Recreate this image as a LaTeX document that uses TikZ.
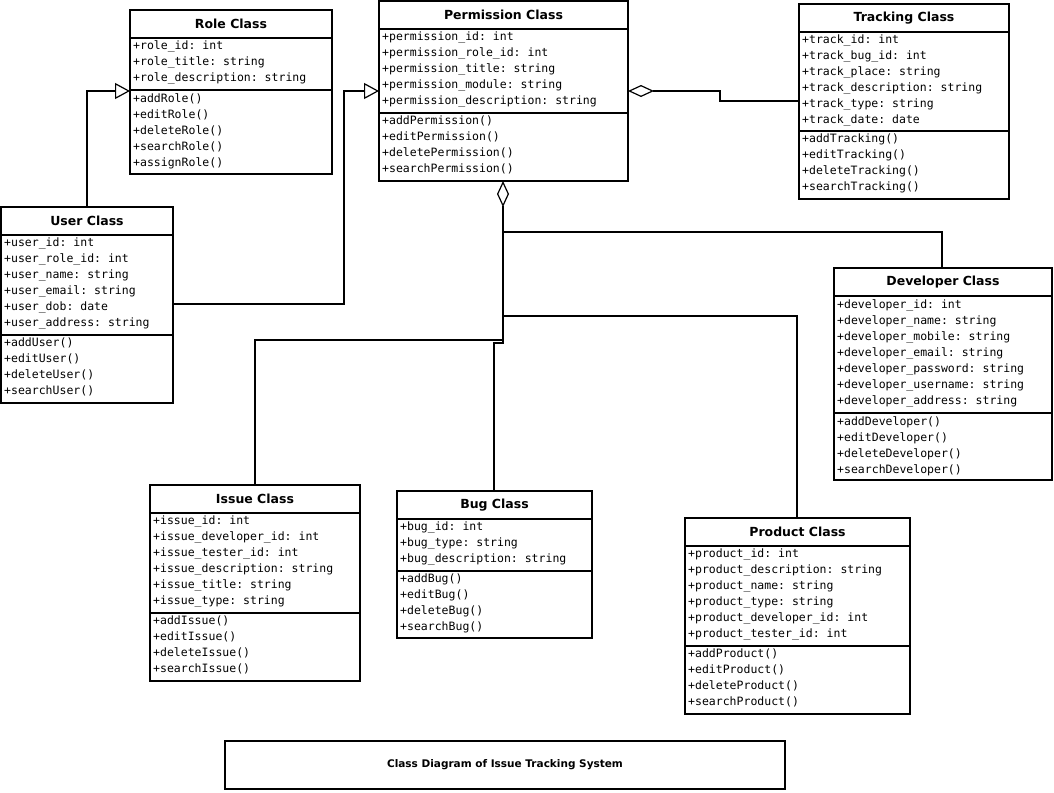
\documentclass[tikz,border=0pt]{standalone}
\usepackage{fontspec}
\setmainfont{DejaVu Sans}
\setmonofont{DejaVu Sans Mono}
\usetikzlibrary{arrows.meta}
\tikzset{
  box/.style={draw, line width=1.2pt},
  ttl/.style={font=\bfseries\fontsize{12.5}{15}\selectfont, inner sep=0},
  mem/.style={font=\ttfamily\fontsize{11.5}{16}\selectfont, align=left, anchor=north west, inner sep=0},
  conn/.style={line width=1.2pt},
  gen/.style={conn, -{Triangle[open, length=15pt, width=16pt]}},
  agg/.style={conn, {Diamond[open, length=26pt, width=12pt]}-},
}
% #1 name #2 x1 #3 y1 #4 x2 #5 y2 #6 ytitle #7 ysep #8 title #9 attrs
\newcommand\umlcls[9]{%
  \draw[box] (#2,-#3) rectangle (#4,-#5);
  \path (#2,-#3) coordinate (#1-nw) (#4,-#5) coordinate (#1-se);
  \node[inner sep=0, fit-free] at (0,0) {};
  \draw[box] (#2,-#6) -- (#4,-#6);
  \draw[box] (#2,-#7) -- (#4,-#7);
  \node[ttl] (#1-t) at ({(#2+#4)/2},{-(#3+#6)/2}) {#8};
  \node[mem] (#1-a) at (#2+3,-#6-3) {#9};
}
\newcommand\umlmeth[4]{\node[mem] (#1-m) at (#2+3,-#3-3) {#4};}
\tikzset{fit-free/.style={}}
\begin{document}
\begin{tikzpicture}[x=1pt,y=1pt]
\useasboundingbox (0,0) rectangle (1054,-792);
\fill[white] (0,0) rectangle (1054,-792);

\umlcls{role}{130}{10}{332}{174}{38}{90}{Role Class}{+role\_id: int\\+role\_title: string\\+role\_description: string}
\umlmeth{role}{130}{90}{+addRole()\\+editRole()\\+deleteRole()\\+searchRole()\\+assignRole()}

\umlcls{perm}{379}{1}{628}{181}{29}{113}{Permission Class}{+permission\_id: int\\+permission\_role\_id: int\\+permission\_title: string\\+permission\_module: string\\+permission\_description: string}
\umlmeth{perm}{379}{113}{+addPermission()\\+editPermission()\\+deletePermission()\\+searchPermission()}

\umlcls{track}{799}{4}{1009}{199}{32}{131}{Tracking Class}{+track\_id: int\\+track\_bug\_id: int\\+track\_place: string\\+track\_description: string\\+track\_type: string\\+track\_date: date}
\umlmeth{track}{799}{131}{+addTracking()\\+editTracking()\\+deleteTracking()\\+searchTracking()}

\umlcls{user}{1}{207}{173}{403}{235}{335}{User Class}{+user\_id: int\\+user\_role\_id: int\\+user\_name: string\\+user\_email: string\\+user\_dob: date\\+user\_address: string}
\umlmeth{user}{1}{335}{+addUser()\\+editUser()\\+deleteUser()\\+searchUser()}

\umlcls{dev}{834}{268}{1052}{480}{296}{413}{Developer Class}{+developer\_id: int\\+developer\_name: string\\+developer\_mobile: string\\+developer\_email: string\\+developer\_password: string\\+developer\_username: string\\+developer\_address: string}
\umlmeth{dev}{834}{413}{+addDeveloper()\\+editDeveloper()\\+deleteDeveloper()\\+searchDeveloper()}

\umlcls{issue}{150}{485}{360}{681}{513}{613}{Issue Class}{+issue\_id: int\\+issue\_developer\_id: int\\+issue\_tester\_id: int\\+issue\_description: string\\+issue\_title: string\\+issue\_type: string}
\umlmeth{issue}{150}{613}{+addIssue()\\+editIssue()\\+deleteIssue()\\+searchIssue()}

\umlcls{bug}{397}{491}{592}{638}{519}{571}{Bug Class}{+bug\_id: int\\+bug\_type: string\\+bug\_description: string}
\umlmeth{bug}{397}{571}{+addBug()\\+editBug()\\+deleteBug()\\+searchBug()}

\umlcls{prod}{685}{518}{910}{714}{546}{646}{Product Class}{+product\_id: int\\+product\_description: string\\+product\_name: string\\+product\_type: string\\+product\_developer\_id: int\\+product\_tester\_id: int}
\umlmeth{prod}{685}{646}{+addProduct()\\+editProduct()\\+deleteProduct()\\+searchProduct()}

\draw[box] (225,-741) rectangle (785,-789);
\node[font=\bfseries\fontsize{10.5}{12}\selectfont] (cap) at (505,-765) {Class Diagram of Issue Tracking System};

% connectors
\coordinate (roleL) at (130,-91);
\coordinate (permL) at (379,-91);
\coordinate (permR) at (628,-91);
\coordinate (permB) at (503,-181);
\coordinate (userT) at (87,-207);
\coordinate (userR) at (173,-304);
\coordinate (trackL) at (799,-101);
\coordinate (devT) at (942,-268);
\coordinate (issueT) at (255,-485);
\coordinate (bugT) at (494,-491);
\coordinate (prodT) at (797,-518);

\draw[gen] (userT) |- (roleL);
\draw[gen] (userR) -| (344,-91) -- (permL);
\draw[agg] (permR) -- (720,-91) |- (trackL);
\draw[agg] (permB) -- (503,-232) -| (devT);
\draw[conn] (503,-232) -- (503,-343) -- (494,-343) -- (bugT);
\draw[conn] (503,-316) -| (prodT);
\draw[conn] (503,-340) -| (issueT);
\end{tikzpicture}
\end{document}
